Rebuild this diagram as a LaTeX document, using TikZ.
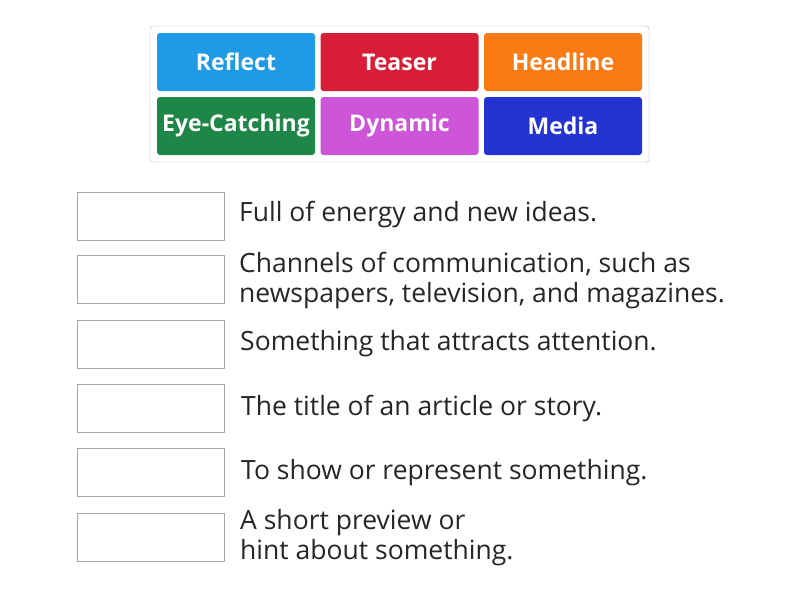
\documentclass[tikz,border=0pt]{standalone}
\usepackage{fontspec}
\setmainfont{Open Sans}
\begin{document}
\begin{tikzpicture}[x=1pt,y=-1pt,
 tile/.style={rounded corners=3pt,minimum width=158pt,minimum height=58pt,text=white,font=\fontsize{23}{26}\selectfont\bfseries,inner sep=0pt},
 ans/.style={draw=gray!70,minimum width=147pt,minimum height=48pt,inner sep=0pt},
 def/.style={anchor=west,align=left,font=\fontsize{26.5}{30}\selectfont,text=black!85,inner sep=0pt}]
\useasboundingbox (0,0) rectangle (800,600);
\node[draw=gray!60,rounded corners=3pt,minimum width=499pt,minimum height=136pt,inner sep=0pt] (frame) at (399.5,94) {};
\definecolor{cb}{HTML}{1E9BE6}\definecolor{cr}{HTML}{D81E36}\definecolor{co}{HTML}{FA7A14}
\definecolor{cg}{HTML}{1E8646}\definecolor{cm}{HTML}{CC55D8}\definecolor{cn}{HTML}{2533D2}
\node[tile,fill=cb] (t1) at (236,62) {Reflect};
\node[tile,fill=cr] (t2) at (399.5,62) {Teaser};
\node[tile,fill=co] (t3) at (563,62) {Headline};
\node[tile,fill=cg] (t4) at (236,126) {Eye-Catching};
\node[tile,fill=cm] (t5) at (399.5,126) {Dynamic};
\node[tile,fill=cn] (t6) at (563,126) {Media};
\foreach \i/\y in {1/216,2/279.5,3/344.5,4/408.5,5/472.5,6/537.5}{\node[ans] (a\i) at (150.5,\y) {};}
\node[def] (d1) at (239,215) {Full of energy and new ideas.};
\node[def] (d2) at (239,281) {Channels of communication, such as\\newspapers, television, and magazines.};
\node[def] (d3) at (240,344) {Something that attracts attention.};
\node[def] (d4) at (241,409) {The title of an article or story.};
\node[def] (d5) at (241,473) {To show or represent something.};
\node[def] (d6) at (240,538) {A short preview or\\hint about something.};
\end{tikzpicture}
\end{document}
